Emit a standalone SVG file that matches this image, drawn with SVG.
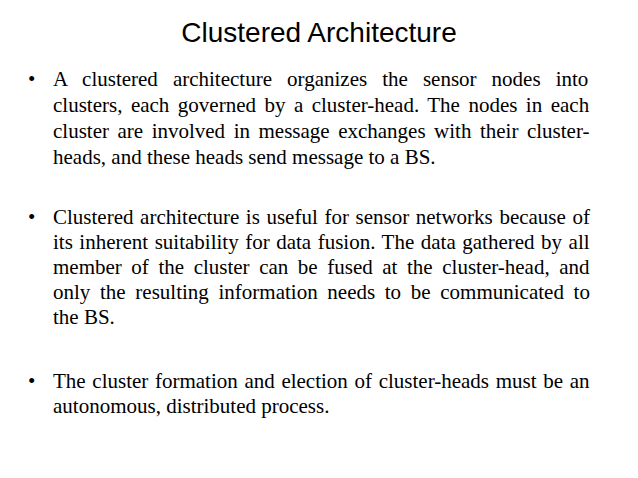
<svg xmlns="http://www.w3.org/2000/svg" width="638" height="478" viewBox="0 0 638 478">
<style>
.t{font-family:"Liberation Sans",Arial,sans-serif;font-size:28px;fill:#000}
.b{font-family:"Liberation Serif","Times New Roman",serif;font-size:21px;fill:#000}
</style>
<rect width="638" height="478" fill="#fff"/>
<text class="t" x="319" y="42" text-anchor="middle">Clustered Architecture</text>
<g class="b">
<text x="28" y="86">•</text>
<text x="53" y="86" word-spacing="9.8">A clustered architecture organizes the sensor nodes into</text>
<text x="53" y="112" word-spacing="3.23">clusters, each governed by a cluster-head. The nodes in each</text>
<text x="53" y="138" word-spacing="3.26">cluster are involved in message exchanges with their cluster-</text>
<text x="53" y="164">heads, and these heads send message to a BS.</text>
<text x="28" y="224">•</text>
<text x="53" y="224" word-spacing="1.37">Clustered architecture is useful for sensor networks because of</text>
<text x="53" y="249" word-spacing="1.27">its inherent suitability for data fusion. The data gathered by all</text>
<text x="53" y="274" word-spacing="4.31">member of the cluster can be fused at the cluster-head, and</text>
<text x="53" y="299" word-spacing="4.42">only the resulting information needs to be communicated to</text>
<text x="53" y="324">the BS.</text>
<text x="28" y="388">•</text>
<text x="53" y="388" word-spacing="1.41">The cluster formation and election of cluster-heads must be an</text>
<text x="53" y="413">autonomous, distributed process.</text>
</g>
</svg>
